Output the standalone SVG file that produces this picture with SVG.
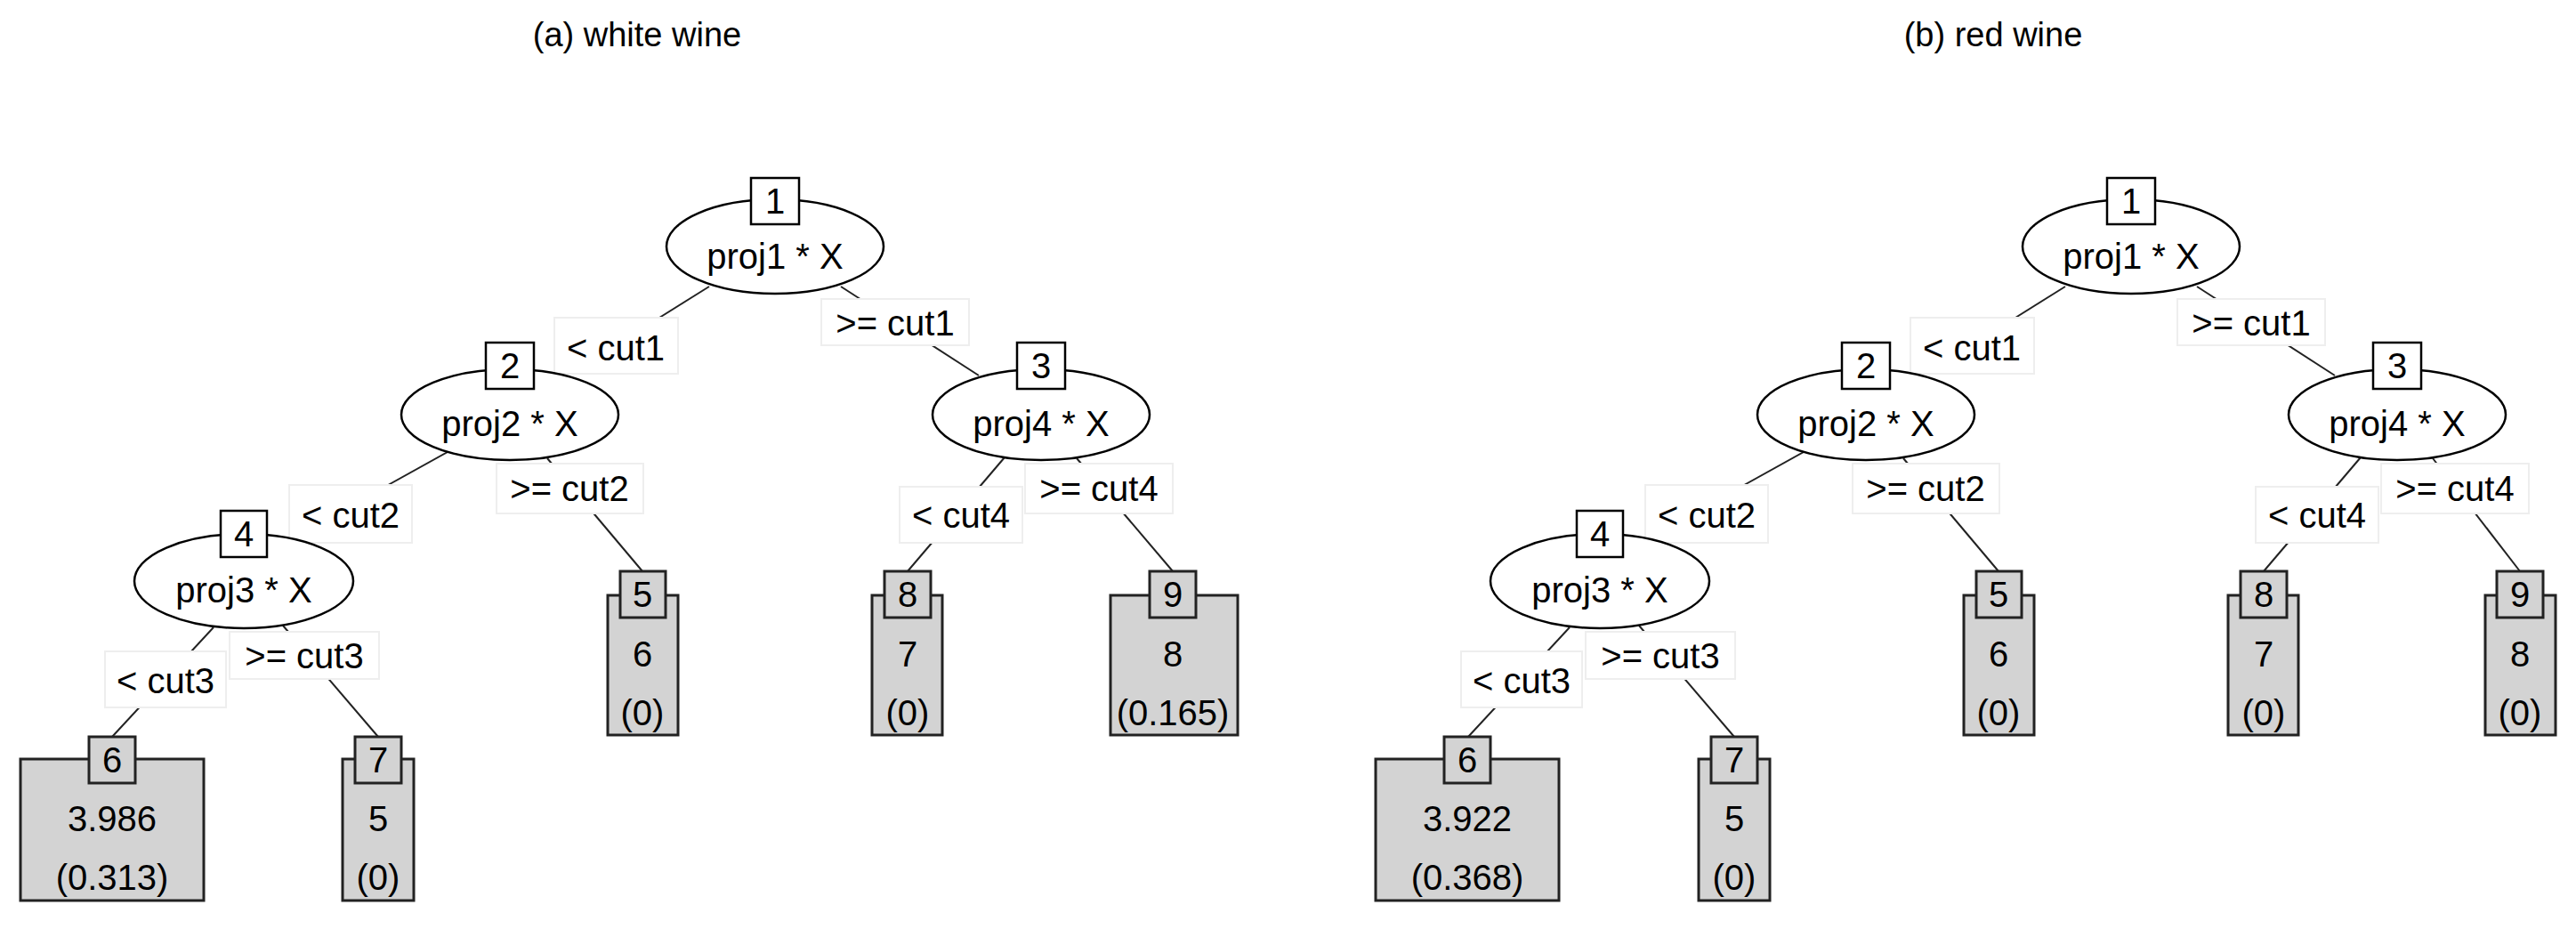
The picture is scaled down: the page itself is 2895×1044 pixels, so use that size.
<svg xmlns="http://www.w3.org/2000/svg" width="2895" height="1044" viewBox="0 0 2895 1044">
<style>
text{font-family:"Liberation Sans",Arial,sans-serif;font-size:40px;fill:#000;text-anchor:middle}
.t{font-size:38px}
.el{fill:#fff;stroke:#000;stroke-width:2.5}
.nb{fill:#fff;stroke:#000;stroke-width:2.5}
.lf{fill:#d3d3d3;stroke:#222;stroke-width:3}
.lb{fill:#d3d3d3;stroke:#222;stroke-width:3}
.lab{fill:#fff;stroke:#eee;stroke-width:2}
.e line{stroke:#222;stroke-width:2}
</style>
<text class="t" x="716" y="52">(a) white wine</text>
<text class="t" x="2240" y="52">(b) red wine</text>
<defs>
<g id="tree">
<g class="e">
<line x1="797" y1="322" x2="650" y2="414"/>
<line x1="945" y1="322" x2="1100" y2="422"/>
<line x1="503" y1="508" x2="330" y2="604"/>
<line x1="615" y1="515" x2="722" y2="642"/>
<line x1="1129" y1="514" x2="1020" y2="642"/>
<line x1="1210" y1="515" x2="1318" y2="642"/>
<line x1="240" y1="705" x2="126" y2="828"/>
<line x1="318" y1="703" x2="425" y2="828"/>
</g>
</g>
</defs>
<g id="connectors-a">
<use href="#tree"/>
<rect class="lab" x="623" y="357" width="139" height="63"/><text x="692" y="405">&lt; cut1</text>
<rect class="lab" x="923" y="336" width="166" height="52"/><text x="1006" y="377">&gt;= cut1</text>
<rect class="lab" x="325" y="545" width="138" height="65"/><text x="394" y="593">&lt; cut2</text>
<rect class="lab" x="558" y="521" width="165" height="56"/><text x="640" y="563">&gt;= cut2</text>
<rect class="lab" x="1011" y="547" width="138" height="63"/><text x="1080" y="593">&lt; cut4</text>
<rect class="lab" x="1152" y="521" width="166" height="56"/><text x="1235" y="563">&gt;= cut4</text>
<rect class="lab" x="118" y="732" width="136" height="63"/><text x="186" y="779">&lt; cut3</text>
<rect class="lab" x="258" y="710" width="168" height="53"/><text x="342" y="751">&gt;= cut3</text>
</g>
<g id="a-n1"><ellipse class="el" cx="871" cy="277" rx="122" ry="53"/><rect class="nb" x="844" y="200" width="54" height="52"/><text x="871" y="240">1</text><text x="871" y="302">proj1 * X</text></g>
<g id="a-n2"><ellipse class="el" cx="573" cy="466" rx="122" ry="51"/><rect class="nb" x="546" y="385" width="54" height="52"/><text x="573" y="425">2</text><text x="573" y="490">proj2 * X</text></g>
<g id="a-n3"><ellipse class="el" cx="1170" cy="466" rx="122" ry="51"/><rect class="nb" x="1143" y="385" width="54" height="52"/><text x="1170" y="425">3</text><text x="1170" y="490">proj4 * X</text></g>
<g id="a-n4"><ellipse class="el" cx="274" cy="653" rx="123" ry="53"/><rect class="nb" x="248" y="574" width="52" height="52"/><text x="274" y="614">4</text><text x="274" y="677">proj3 * X</text></g>
<g id="a-n5"><rect class="lf" x="683" y="669" width="79" height="157"/><rect class="lb" x="697" y="642" width="51" height="52"/><text x="722" y="682">5</text><text x="722" y="749">6</text><text x="722" y="815">(0)</text></g>
<g id="a-n8"><rect class="lf" x="980" y="669" width="79" height="157"/><rect class="lb" x="994" y="642" width="52" height="52"/><text x="1020" y="682">8</text><text x="1020" y="749">7</text><text x="1020" y="815">(0)</text></g>
<g id="a-n9"><rect class="lf" x="1248" y="669" width="143" height="157"/><rect class="lb" x="1292" y="642" width="52" height="52"/><text x="1318" y="682">9</text><text x="1318" y="749">8</text><text x="1318" y="815">(0.165)</text></g>
<g id="a-n6"><rect class="lf" x="23" y="853" width="206" height="159"/><rect class="lb" x="100" y="828" width="52" height="52"/><text x="126" y="868">6</text><text x="126" y="934">3.986</text><text x="126" y="1000">(0.313)</text></g>
<g id="a-n7"><rect class="lf" x="385" y="853" width="80" height="159"/><rect class="lb" x="399" y="828" width="52" height="52"/><text x="425" y="868">7</text><text x="425" y="934">5</text><text x="425" y="1000">(0)</text></g>

<g id="connectors-b" transform="translate(1524,0)">
<g class="e">
<line x1="797" y1="322" x2="650" y2="414"/>
<line x1="945" y1="322" x2="1100" y2="422"/>
<line x1="503" y1="508" x2="330" y2="604"/>
<line x1="615" y1="515" x2="722" y2="642"/>
<line x1="1129" y1="514" x2="1020" y2="642"/>
<line x1="1210" y1="515" x2="1308" y2="642"/>
<line x1="240" y1="705" x2="126" y2="828"/>
<line x1="318" y1="703" x2="425" y2="828"/>
</g>
<rect class="lab" x="623" y="357" width="139" height="63"/><text x="692" y="405">&lt; cut1</text>
<rect class="lab" x="923" y="336" width="166" height="52"/><text x="1006" y="377">&gt;= cut1</text>
<rect class="lab" x="325" y="545" width="138" height="65"/><text x="394" y="593">&lt; cut2</text>
<rect class="lab" x="558" y="521" width="165" height="56"/><text x="640" y="563">&gt;= cut2</text>
<rect class="lab" x="1011" y="547" width="138" height="63"/><text x="1080" y="593">&lt; cut4</text>
<rect class="lab" x="1152" y="521" width="166" height="56"/><text x="1235" y="563">&gt;= cut4</text>
<rect class="lab" x="118" y="732" width="136" height="63"/><text x="186" y="779">&lt; cut3</text>
<rect class="lab" x="258" y="710" width="168" height="53"/><text x="342" y="751">&gt;= cut3</text>
</g>
<g id="b-n1" transform="translate(1524,0)"><ellipse class="el" cx="871" cy="277" rx="122" ry="53"/><rect class="nb" x="844" y="200" width="54" height="52"/><text x="871" y="240">1</text><text x="871" y="302">proj1 * X</text></g>
<g id="b-n2" transform="translate(1524,0)"><ellipse class="el" cx="573" cy="466" rx="122" ry="51"/><rect class="nb" x="546" y="385" width="54" height="52"/><text x="573" y="425">2</text><text x="573" y="490">proj2 * X</text></g>
<g id="b-n3" transform="translate(1524,0)"><ellipse class="el" cx="1170" cy="466" rx="122" ry="51"/><rect class="nb" x="1143" y="385" width="54" height="52"/><text x="1170" y="425">3</text><text x="1170" y="490">proj4 * X</text></g>
<g id="b-n4" transform="translate(1524,0)"><ellipse class="el" cx="274" cy="653" rx="123" ry="53"/><rect class="nb" x="248" y="574" width="52" height="52"/><text x="274" y="614">4</text><text x="274" y="677">proj3 * X</text></g>
<g id="b-n5" transform="translate(1524,0)"><rect class="lf" x="683" y="669" width="79" height="157"/><rect class="lb" x="697" y="642" width="51" height="52"/><text x="722" y="682">5</text><text x="722" y="749">6</text><text x="722" y="815">(0)</text></g>
<g id="b-n8" transform="translate(1524,0)"><rect class="lf" x="980" y="669" width="79" height="157"/><rect class="lb" x="994" y="642" width="52" height="52"/><text x="1020" y="682">8</text><text x="1020" y="749">7</text><text x="1020" y="815">(0)</text></g>
<g id="b-n9"><rect class="lf" x="2793" y="669" width="79" height="157"/><rect class="lb" x="2806" y="642" width="52" height="52"/><text x="2832" y="682">9</text><text x="2832" y="749">8</text><text x="2832" y="815">(0)</text></g>
<g id="b-n6" transform="translate(1523,0)"><rect class="lf" x="23" y="853" width="206" height="159"/><rect class="lb" x="100" y="828" width="52" height="52"/><text x="126" y="868">6</text><text x="126" y="934">3.922</text><text x="126" y="1000">(0.368)</text></g>
<g id="b-n7" transform="translate(1524,0)"><rect class="lf" x="385" y="853" width="80" height="159"/><rect class="lb" x="399" y="828" width="52" height="52"/><text x="425" y="868">7</text><text x="425" y="934">5</text><text x="425" y="1000">(0)</text></g>
</svg>
